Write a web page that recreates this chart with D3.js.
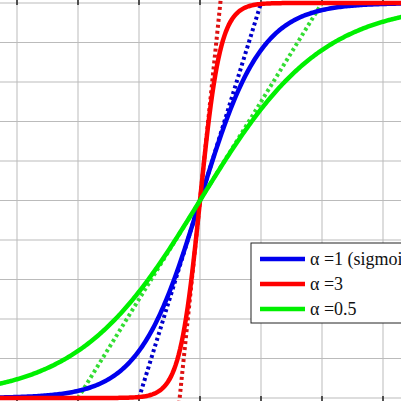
<!DOCTYPE html>
<html><head><meta charset="utf-8">
<script src="https://d3js.org/d3.v7.min.js"></script>
<style>body{margin:0;background:#fff}</style>
</head><body>
<svg id="c" width="401" height="401"></svg>
<script>
// data
var alphas = [1, 3, 0.5];
var labels = ["\u03b1 =1 (sigmoid)", "\u03b1 =3", "\u03b1 =0.5"];
var colors = ["#0000ee", "#ff0000", "#00f000"];
var dotColors = ["#0000cc", "#dd1111", "#33dd33"];
var xTicks = [-6, -4, -2, 0, 2, 4, 6];
var yTicks = [0, 0.1, 0.2, 0.3, 0.4, 0.5, 0.6, 0.7, 0.8, 0.9, 1];

var svg = d3.select("#c");
var x = d3.scaleLinear().domain([-6, 6]).range([17, 383]);
var y = d3.scaleLinear().domain([0, 1]).range([398, 3]);

svg.selectAll(".vg").data(xTicks).enter().append("line")
    .attr("x1", x).attr("x2", x).attr("y1", 0).attr("y2", 401)
    .attr("stroke", "#bbb").attr("stroke-width", 1);
svg.selectAll(".hg").data(yTicks).enter().append("line")
    .attr("y1", y).attr("y2", y).attr("x1", 0).attr("x2", 401)
    .attr("stroke", "#bbb").attr("stroke-width", 1);
// tick marks top and bottom
svg.selectAll(".tt").data(xTicks).enter().append("line")
    .attr("x1", x).attr("x2", x).attr("y1", 0).attr("y2", 5)
    .attr("stroke", "#222").attr("stroke-width", 1.5);
svg.selectAll(".tb").data(xTicks).enter().append("line")
    .attr("x1", x).attr("x2", x).attr("y1", 396).attr("y2", 401)
    .attr("stroke", "#222").attr("stroke-width", 1.5);

var xs = d3.range(-6.6, 6.7, 0.05);
var line = d3.line().x(function(d) { return x(d[0]); }).y(function(d) { return y(d[1]); });

// dotted linear approximations (slanted part only)
alphas.forEach(function(a, i) {
    var half = 2 / a * (i == 1 ? 1.15 : 1);
    var pts = [[-half, 0.5 - a * half / 4], [half, 0.5 + a * half / 4]];
    svg.append("path").attr("d", line(pts)).attr("fill", "none")
        .attr("stroke", dotColors[i]).attr("stroke-width", 4)
        .attr("stroke-dasharray", "3,3");
});
// sigmoid curves
alphas.forEach(function(a, i) {
    var pts = xs.map(function(t) { return [t, 1 / (1 + Math.exp(-a * t))]; });
    svg.append("path").attr("d", line(pts)).attr("fill", "none")
        .attr("stroke", colors[i]).attr("stroke-width", 4.5);
});

// legend
var lg = svg.append("g").attr("transform", "translate(251,243)");
lg.append("rect").attr("width", 170).attr("height", 80)
    .attr("fill", "#fff").attr("stroke", "#222").attr("stroke-width", 1);
labels.forEach(function(l, i) {
    var yy = 16 + i * 25;
    lg.append("line").attr("x1", 9).attr("x2", 54).attr("y1", yy).attr("y2", yy)
        .attr("stroke", colors[i]).attr("stroke-width", 4.5);
    lg.append("text").attr("x", 59).attr("y", yy + 6).text(l)
        .style("font-family", "'Liberation Serif', 'DejaVu Serif', serif")
        .attr("font-size", 18).attr("fill", "#111");
});
</script>
</body></html>
